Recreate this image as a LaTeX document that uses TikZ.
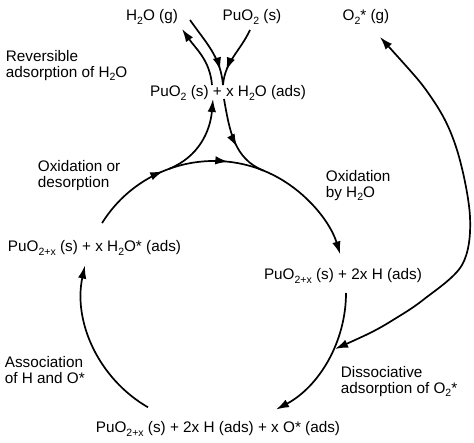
\documentclass[tikz,border=0pt]{standalone}
\usepackage{fontspec}
\setmainfont{Liberation Sans}
\usetikzlibrary{arrows.meta,decorations.markings}
\newcommand\lsub[1]{\raisebox{-3.5pt}{\fontsize{10.5}{10}\selectfont #1}}
\begin{document}
\begin{tikzpicture}[x=1pt,y=1pt,line width=1.7pt,
  >={Latex[length=13pt,width=8.5pt]},
  lbl/.style={inner sep=0pt,anchor=base,font=\fontsize{15.3}{15.5}\selectfont},
  mlbl/.style={inner sep=0pt,anchor=north west,align=left,font=\fontsize{15.3}{15.5}\selectfont},
  midarrow/.style={postaction={decorate},decoration={markings,mark=at position #1 with {\arrow{>}}}}]
\useasboundingbox (0,0) rectangle (474,443);
% texts
\node[lbl] (h2og) at (152,422) {H\lsub{2}O (g)};
\node[lbl] (puo2s) at (252,422) {PuO\lsub{2} (s)};
\node[lbl] (o2g) at (366,422) {O\lsub{2}* (g)};
\node[mlbl] (rev) at (5,393) {Reversible\\adsorption of H\lsub{2}O};
\node[lbl] (top) at (228,346) {PuO\lsub{2} (s) + x H\lsub{2}O (ads)};
\node[mlbl] (oxdes) at (37,283) {Oxidation or\\desorption};
\node[mlbl] (oxh2o) at (325,273) {Oxidation\\by H\lsub{2}O};
\node[lbl] (lstate) at (94.5,191) {PuO\lsub{2+x} (s) + x H\lsub{2}O* (ads)};
\node[lbl] (rstate) at (343,163) {PuO\lsub{2+x} (s) + 2x H (ads)};
\node[mlbl] (assoc) at (4,87) {Association\\of H and O*};
\node[mlbl] (dissoc) at (340,77) {Dissociative\\adsorption of O\lsub{2}*};
\node[lbl] (bstate) at (218,10) {PuO\lsub{2+x} (s) + 2x H (ads) + x O* (ads)};
% cycle
\coordinate (C) at (214,150);
\draw[->,postaction={decorate},decoration={markings,
    mark=at position 0.27 with {\arrow{>}},
    mark=at position 0.49 with {\arrow{>}}}]
  ([shift={(148:132)}]C) arc[start angle=148,end angle=17,radius=132];
\draw[->] ([shift={(0:132)}]C) arc[start angle=0,end angle=-62,radius=132];
\draw[->] ([shift={(240:132)}]C) arc[start angle=240,end angle=168,radius=132];
% branches below the top state
\coordinate (lb0) at ([shift={(110:132)}]C);
\coordinate (rb1) at ([shift={(68:132)}]C);
\coordinate (tl) at (213,344);
\coordinate (tr) at (224,344);
\draw[->] (lb0) to[out=22,in=-95] (tl);
\draw[midarrow=0.58] (tr) to[out=-80,in=158] (rb1);
% lines above the top state
\coordinate (a1) at (190,423);
\coordinate (mm) at (223,358);
\coordinate (a2) at (250,413);
\coordinate (a3s) at (212,358);
\coordinate (a3e) at (182,414);
\draw[midarrow=0.8] (a1) to[out=-55,in=95] (mm);
\draw[midarrow=0.76] (a2) to[out=-115,in=85] (mm);
\draw[->] (a3s) to[out=95,in=-55] (a3e);
% O2 exchange
\coordinate (o2t) at (380,406);
\coordinate (o2b) at (335,94);
\draw[<->] plot[smooth,tension=0.55] coordinates {(o2t) (433,343) (457,293) (470,226) (462,178) (423,143) (393,123) (370,110) (o2b)};
\end{tikzpicture}
\end{document}
